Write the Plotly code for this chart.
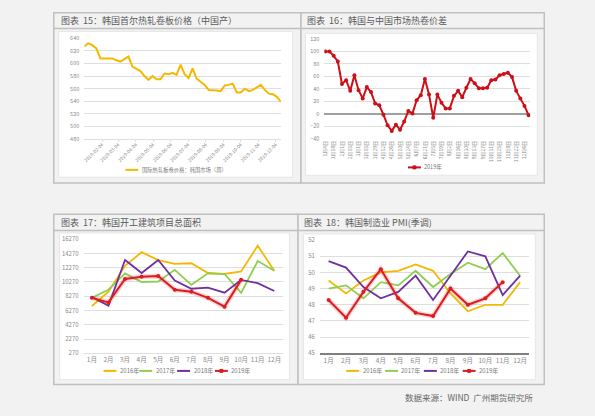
import plotly.graph_objects as go
import pandas as pd

W, H = 595, 416


def px(x):
    return x / W


def py(y):
    return 1 - y / H


# ---------------- data ----------------
hrc_dates = pd.date_range("2019-01-04", periods=50, freq="7D")
hrc_price = [627, 632, 629, 624, 608, 608, 608, 608, 605, 603,
             607, 611, 595, 591, 588, 580, 574, 580, 575, 575,
             584, 583, 585, 582, 598, 583, 577, 592, 576, 571,
             566, 558, 558, 557, 556, 565, 566, 568, 554, 554,
             560, 556, 558, 562, 566, 558, 552, 551, 547, 539]
hrc_ticks = pd.date_range("2019-01-04", periods=12, freq="MS") + pd.Timedelta(days=3)

spread_dates = hrc_dates
spread = [100, 100, 93, 84, 48, 54, 37, 62, 38, 25,
          43, 35, 17, 14, -1, -18, -27, -17, -25, -12,
          5, 1, 22, 30, 56, 31, -6, 31, 18, 9,
          9, 29, 37, 27, 42, 56, 49, 41, 41, 42,
          54, 55, 62, 64, 66, 59, 37, 25, 13, -2]

months = ["1月", "2月", "3月", "4月", "5月", "6月", "7月", "8月", "9月", "10月", "11月", "12月"]
area_2016 = [6900, 8900, 12520, 14440, 13340, 12800, 12890, 11520, 11380, 11740, 15350, 11840]
area_2017 = [8040, 9180, 11470, 10240, 10330, 11970, 9870, 11470, 11380, 8730, 13210, 11840]
area_2018 = [8180, 6940, 13340, 11520, 13340, 10460, 9320, 9460, 8770, 10560, 10100, 9000]
area_2019 = [8040, 7400, 10690, 11010, 11100, 9180, 8910, 8040, 6810, 10560]

pmi_2016 = [49.5, 48.7, 49.5, 50.0, 50.1, 50.5, 50.1, 48.7, 47.6, 48.0, 48.0, 49.4]
pmi_2017 = [49.0, 49.2, 48.4, 49.4, 49.2, 50.1, 49.1, 49.9, 50.6, 50.2, 51.2, 49.8]
pmi_2018 = [50.7, 50.3, 49.1, 48.4, 48.8, 49.8, 48.3, 49.8, 51.3, 51.0, 48.6, 49.8]
pmi_2019 = [48.3, 47.2, 48.8, 50.2, 48.4, 47.5, 47.3, 49.0, 48.0, 48.4, 49.4]

years = ["2016年", "2017年", "2018年", "2019年"]

# ---------------- style ----------------
YELLOW = "#f5b800"
GREEN = "#8fcf4f"
PURPLE = "#7030a0"
RED = "#dc1c20"
DRED = "#cc1018"
GRID = "#dedede"
TICK = "#8a8a8a"
FONT = "Noto Sans CJK SC"

fig = go.Figure()

# Chart 15
fig.add_trace(go.Scatter(x=hrc_dates, y=hrc_price, mode="lines",
                         line=dict(color=YELLOW, width=2), xaxis="x", yaxis="y",
                         showlegend=False))
# Chart 16
fig.add_trace(go.Scatter(x=spread_dates, y=spread, mode="lines+markers",
                         line=dict(color=DRED, width=2), marker=dict(size=4, color=DRED),
                         xaxis="x2", yaxis="y2", showlegend=False))
# Chart 17
for ys, c in [(area_2016, YELLOW), (area_2017, GREEN), (area_2018, PURPLE)]:
    fig.add_trace(go.Scatter(x=months[:len(ys)], y=ys, mode="lines",
                             line=dict(color=c, width=1.8), xaxis="x3", yaxis="y3",
                             showlegend=False))
fig.add_trace(go.Scatter(x=months[:len(area_2019)], y=area_2019, mode="lines",
                         line=dict(color="rgba(200,30,30,0.18)", width=5),
                         xaxis="x3", yaxis="y3", showlegend=False, hoverinfo="skip"))
fig.add_trace(go.Scatter(x=months[:len(area_2019)], y=area_2019, mode="lines+markers",
                         line=dict(color=RED, width=2), marker=dict(size=4, color=RED),
                         xaxis="x3", yaxis="y3", showlegend=False))
# Chart 18
for ys, c in [(pmi_2016, YELLOW), (pmi_2017, GREEN), (pmi_2018, PURPLE)]:
    fig.add_trace(go.Scatter(x=months[:len(ys)], y=ys, mode="lines",
                             line=dict(color=c, width=1.8), xaxis="x4", yaxis="y4",
                             showlegend=False))
fig.add_trace(go.Scatter(x=months[:len(pmi_2019)], y=pmi_2019, mode="lines",
                         line=dict(color="rgba(200,30,30,0.18)", width=5),
                         xaxis="x4", yaxis="y4", showlegend=False, hoverinfo="skip"))
fig.add_trace(go.Scatter(x=months[:len(pmi_2019)], y=pmi_2019, mode="lines+markers",
                         line=dict(color=RED, width=2), marker=dict(size=4, color=RED),
                         xaxis="x4", yaxis="y4", showlegend=False))

tickfont = dict(size=6, color=TICK, family=FONT)

# ---------------- axes ----------------
wk = pd.Timedelta(days=7)
layout = dict(
    xaxis=dict(domain=[px(81.7), px(279.3)], anchor="y", type="date",
               range=[hrc_dates[0], hrc_dates[-1]],
               tickvals=list(hrc_ticks), ticktext=[d.strftime("%Y-%m-%d") for d in hrc_ticks],
               tickangle=-45, tickfont=dict(size=4.8, color=TICK, family=FONT),
               showgrid=False, showline=True, ticklabelstandoff=-2,
               linecolor=GRID, linewidth=1, ticks="outside", ticklen=2, tickcolor=GRID),
    yaxis=dict(domain=[py(137), py(34)], anchor="x", range=[480, 640], dtick=20,
               tickfont=dict(size=5.5, color=TICK, family=FONT), gridcolor=GRID,
               gridwidth=1, zeroline=False, showline=False, ticklabelstandoff=4),
    xaxis2=dict(domain=[px(323), px(530)], anchor="y2", type="date",
                range=[spread_dates[0] - 0.24 * wk, spread_dates[-1] + 0.41 * wk],
                tickvals=list(spread_dates[::2]),
                ticktext=[f"{d.month}月{d.day}日" for d in spread_dates[::2]],
                tickangle=-90, tickfont=dict(size=5, color=TICK, family=FONT),
                showgrid=False, showline=False, ticks=""),
    yaxis2=dict(domain=[py(137), py(34.7)], anchor="x2", range=[-40, 120], dtick=20,
                tickfont=dict(size=5.5, color=TICK, family=FONT), gridcolor=GRID,
                zeroline=True, zerolinecolor="#a0a0a0", zerolinewidth=1.5,
                showline=False, ticklabelstandoff=4),
    xaxis3=dict(domain=[px(81), px(281)], anchor="y3", type="category",
                categoryorder="array", categoryarray=months, range=[-0.5, 11.5],
                tickfont=dict(size=6.5, color=TICK, family=FONT), showgrid=False,
                showline=True, linecolor=GRID, ticks=""),
    yaxis3=dict(domain=[py(356), py(239.3)], anchor="x3", range=[270, 16270],
                tick0=270, dtick=2000, tickformat="d", tickfont=tickfont, gridcolor=GRID,
                zeroline=False, showline=False, ticklabelstandoff=4),
    xaxis4=dict(domain=[px(318.5), px(528.5)], anchor="y4", type="category",
                categoryorder="array", categoryarray=months, range=[-0.5, 11.5],
                tickfont=dict(size=6.5, color=TICK, family=FONT), showgrid=False,
                showline=True, linecolor="#7f7f7f", linewidth=1.5, ticks=""),
    yaxis4=dict(domain=[py(356), py(240.3)], anchor="x4", range=[45, 52], dtick=1,
                tickfont=tickfont, gridcolor=GRID, zeroline=False, showline=False,
                ticklabelstandoff=4),
)

shapes = []
annotations = []

BORDER = "#c0c0c0"


def panel(x0, x1, y0, y1, ybar, wx0, wx1, wy0, wy1, title, tx):
    shapes.append(dict(type="rect", xref="paper", yref="paper", x0=px(x0), x1=px(x1),
                       y0=py(y1), y1=py(y0), line=dict(color=BORDER, width=1.5),
                       fillcolor="#f2f2f2", layer="below"))
    shapes.append(dict(type="line", xref="paper", yref="paper", x0=px(x0), x1=px(x1),
                       y0=py(ybar), y1=py(ybar), line=dict(color=BORDER, width=1.5),
                       layer="below"))
    shapes.append(dict(type="rect", xref="paper", yref="paper", x0=px(wx0), x1=px(wx1),
                       y0=py(wy1), y1=py(wy0), line=dict(color="#e6e6e6", width=1),
                       fillcolor="white", layer="below"))
    annotations.append(dict(text=title, xref="paper", yref="paper", x=px(tx),
                            y=py((y0 + ybar) / 2), xanchor="left", yanchor="middle",
                            showarrow=False, font=dict(size=9, color="#5a5a5a", family=FONT)))


panel(51, 299.5, 8, 182, 24, 56, 291, 27, 176, "图表  15：韩国首尔热轧卷板价格（中国产）", 56)
panel(299.5, 544, 8, 182, 24, 304, 537, 29, 174, "图表  16：韩国与中国市场热卷价差", 304)
panel(51, 296.5, 214, 388, 230.5, 57, 288, 233, 383, "图表  17：韩国开工建筑项目总面积", 56)
panel(296.5, 544, 214, 388, 230.5, 302, 535, 234, 383, "图表  18：韩国制造业 PMI(季调)", 301)


def legend_item(x0, y, color, label, marker=False, size=6):
    shapes.append(dict(type="line", xref="paper", yref="paper", x0=px(x0), x1=px(x0 + 13),
                       y0=py(y), y1=py(y), line=dict(color=color, width=2)))
    if marker:
        shapes.append(dict(type="rect", xref="paper", yref="paper", x0=px(x0 + 5), x1=px(x0 + 8),
                           y0=py(y + 1.5), y1=py(y - 1.5), line=dict(color=color, width=1),
                           fillcolor=color))
    annotations.append(dict(text=label, xref="paper", yref="paper", x=px(x0 + 14.5), y=py(y),
                            xanchor="left", yanchor="middle", showarrow=False,
                            font=dict(size=size, color="#7a7a7a", family=FONT)))


legend_item(123, 168.5, YELLOW, "国际热轧板卷价格：韩国市场（周）", size=5.3)
legend_item(407, 166, DRED, "2019年", marker=True, size=5.5)
for x0, c, lab, m in zip([101, 137, 175, 213], [YELLOW, GREEN, PURPLE, RED], years,
                         [False, False, False, True]):
    legend_item(x0, 374, c, lab, marker=m)
for x0, c, lab, m in zip([345, 384, 423, 462], [YELLOW, GREEN, PURPLE, RED], years,
                         [False, False, False, True]):
    legend_item(x0, 374, c, lab, marker=m)

annotations.append(dict(text="数据来源：WIND  广州期货研究所", xref="paper", yref="paper",
                        x=px(535), y=py(401), xanchor="right", yanchor="middle",
                        showarrow=False, font=dict(size=8.5, color="#666666", family=FONT)))

fig.update_layout(**layout)
fig.update_layout(width=W, height=H, margin=dict(l=0, r=0, t=0, b=0),
                  paper_bgcolor="#f2f2f2", plot_bgcolor="rgba(0,0,0,0)",
                  shapes=shapes, annotations=annotations, showlegend=False,
                  font=dict(family=FONT))

fig.write_html("out.html")
